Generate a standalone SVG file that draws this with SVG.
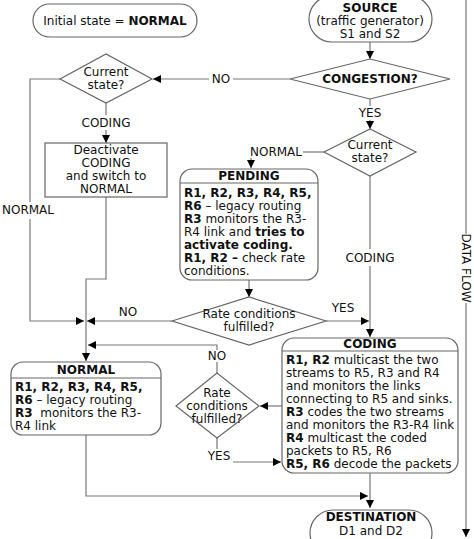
<svg xmlns="http://www.w3.org/2000/svg" width="474" height="539" viewBox="0 0 474 539">
<defs>
<marker id="ah" markerUnits="userSpaceOnUse" markerWidth="9" markerHeight="8" refX="8" refY="4" orient="auto">
<path d="M0,0 L8,4 L0,8 z" fill="#000"/>
</marker>
<style>
text{font-family:"DejaVu Sans","Verdana",sans-serif;font-size:12px;fill:#111}
.c{text-anchor:middle}
.b{font-weight:bold}
.box{fill:#fff;stroke:#666;stroke-width:1.2}
.ln{fill:none;stroke:#777;stroke-width:1.2}
.ar{fill:none;stroke:#777;stroke-width:1.2;marker-end:url(#ah)}
</style>
</defs>
<rect width="474" height="539" fill="#fff"/>

<g id="connectors">
<line class="ar" x1="370" y1="42" x2="370" y2="59"/>
<line class="ln" x1="290" y1="79" x2="233" y2="79"/>
<line class="ar" x1="209" y1="79" x2="153" y2="79"/>
<polyline class="ln" points="60,79 30,79 30,202"/>
<polyline class="ar" points="30,219 30,321 84,321"/>
<line class="ln" x1="106" y1="103" x2="106" y2="115"/>
<line class="ar" x1="106" y1="130" x2="106" y2="143"/>
<polyline class="ar" points="106,197 106,279 86,279 86,361"/>
<line class="ln" x1="370" y1="99" x2="370" y2="106"/>
<line class="ar" x1="370" y1="120" x2="370" y2="129"/>
<line class="ln" x1="324" y1="152" x2="303" y2="152"/>
<line class="ar" x1="251" y1="158" x2="251" y2="168"/>
<line class="ar" x1="249" y1="280" x2="249" y2="297"/>
<line class="ar" x1="172" y1="321" x2="87" y2="321"/>
<line class="ar" x1="326" y1="321" x2="369" y2="321"/>
<line class="ln" x1="370" y1="176" x2="370" y2="249"/>
<line class="ar" x1="370" y1="266" x2="370" y2="337"/>
<line class="ar" x1="282" y1="406" x2="260" y2="406"/>
<line class="ln" x1="217" y1="373" x2="217" y2="362"/>
<polyline class="ar" points="217,350 217,345 88,345"/>
<line class="ln" x1="217" y1="438" x2="217" y2="449"/>
<line class="ar" x1="233" y1="462" x2="281" y2="462"/>
<polyline class="ar" points="86,435 86,496 368,496"/>
<line class="ar" x1="370" y1="473" x2="370" y2="508"/>
<line class="ln" x1="466" y1="0" x2="466" y2="234"/>
<line class="ar" x1="466" y1="303" x2="466" y2="537"/>
<text class="c" x="221" y="83">NO</text>
<text x="2" y="214">NORMAL</text>
<text class="c" x="106" y="127">CODING</text>
<text class="c" x="370" y="117">YES</text>
<text x="302" y="156" style="text-anchor:end">NORMAL</text>
<text class="c" x="128" y="316">NO</text>
<text class="c" x="343" y="312">YES</text>
<text class="c" x="370" y="262">CODING</text>
<text class="c" x="217" y="360">NO</text>
<text class="c" x="219" y="460">YES</text>
<text class="c" x="466" y="268" transform="rotate(90 466 268)" dominant-baseline="central">DATA FLOW</text>
</g>

<g id="initial">
<rect class="box" x="33" y="4" width="164" height="33" rx="16.5"/>
<text class="c" x="115" y="25">Initial state = <tspan class="b">NORMAL</tspan></text>
</g>

<g id="source">
<rect class="box" x="309" y="-4" width="123" height="46" rx="23"/>
<text class="c b" x="370" y="12">SOURCE</text>
<text class="c" x="370" y="25">(traffic generator)</text>
<text class="c" x="370" y="38">S1 and S2</text>
</g>

<g id="congestion">
<polygon class="box" points="290,79 370,59 450,79 370,99"/>
<text class="c b" x="370" y="83">CONGESTION?</text>
</g>

<g id="state-left">
<polygon class="box" points="60,79 106,54 152,79 106,103"/>
<text class="c" x="106" y="76">Current</text>
<text class="c" x="106" y="89">state?</text>
</g>

<g id="deactivate">
<rect class="box" x="45" y="143" width="122" height="54"/>
<text class="c" x="106" y="154">Deactivate</text>
<text class="c" x="106" y="167">CODING</text>
<text class="c" x="106" y="180">and switch to</text>
<text class="c" x="106" y="193">NORMAL</text>
</g>

<g id="state-right">
<polygon class="box" points="324,152 370,129 416,152 370,176"/>
<text class="c" x="370" y="149">Current</text>
<text class="c" x="370" y="162">state?</text>
</g>

<g id="pending">
<rect class="box" x="180" y="169" width="138" height="111" rx="12"/>
<line class="ln" x1="180" y1="183" x2="318" y2="183" style="stroke:#666"/>
<text class="c b" x="249" y="180">PENDING</text>
<text class="b" x="184" y="197">R1, R2, R3, R4, R5,</text>
<text x="184" y="210"><tspan class="b">R6</tspan> – legacy routing</text>
<text x="184" y="223"><tspan class="b">R3</tspan> monitors the R3-</text>
<text x="184" y="236">R4 link and <tspan class="b">tries to</tspan></text>
<text class="b" x="184" y="249">activate coding.</text>
<text x="184" y="262"><tspan class="b">R1, R2 –</tspan> check rate</text>
<text x="184" y="275">conditions.</text>
</g>

<g id="rate-mid">
<polygon class="box" points="172,321 249,297 326,321 249,345"/>
<text class="c" x="249" y="318">Rate conditions</text>
<text class="c" x="249" y="331">fulfilled?</text>
</g>

<g id="coding">
<rect class="box" x="282" y="338" width="176" height="135" rx="12"/>
<line class="ln" x1="282" y1="351" x2="458" y2="351" style="stroke:#666"/>
<text class="c b" x="370" y="348">CODING</text>
<text x="286" y="364"><tspan class="b">R1, R2</tspan> multicast the two</text>
<text x="286" y="377">streams to R5, R3 and R4</text>
<text x="286" y="390">and monitors the links</text>
<text x="286" y="403">connecting to R5 and sinks.</text>
<text x="286" y="416"><tspan class="b">R3</tspan> codes the two streams</text>
<text x="286" y="429">and monitors the R3-R4 link</text>
<text x="286" y="442"><tspan class="b">R4</tspan> multicast the coded</text>
<text x="286" y="455">packets to R5, R6</text>
<text x="286" y="468"><tspan class="b">R5, R6</tspan> decode the packets</text>
</g>

<g id="rate-low">
<polygon class="box" points="176,406 217,373 259,406 217,438"/>
<text class="c" x="217" y="397">Rate</text>
<text class="c" x="217" y="410">conditions</text>
<text class="c" x="217" y="423">fulfilled?</text>
</g>

<g id="normal">
<rect class="box" x="11" y="362" width="150" height="73" rx="12"/>
<line class="ln" x1="11" y1="378" x2="161" y2="378" style="stroke:#666"/>
<text class="c b" x="86" y="374">NORMAL</text>
<text class="b" x="15" y="391">R1, R2, R3, R4, R5,</text>
<text x="15" y="404"><tspan class="b">R6</tspan> – legacy routing</text>
<text x="15" y="417" xml:space="preserve"><tspan class="b">R3</tspan>  monitors the R3-</text>
<text x="15" y="430">R4 link</text>
</g>

<g id="destination">
<rect class="box" x="310" y="510" width="122" height="46" rx="23"/>
<text class="c b" x="371" y="521">DESTINATION</text>
<text class="c" x="371" y="535">D1 and D2</text>
</g>
</svg>
